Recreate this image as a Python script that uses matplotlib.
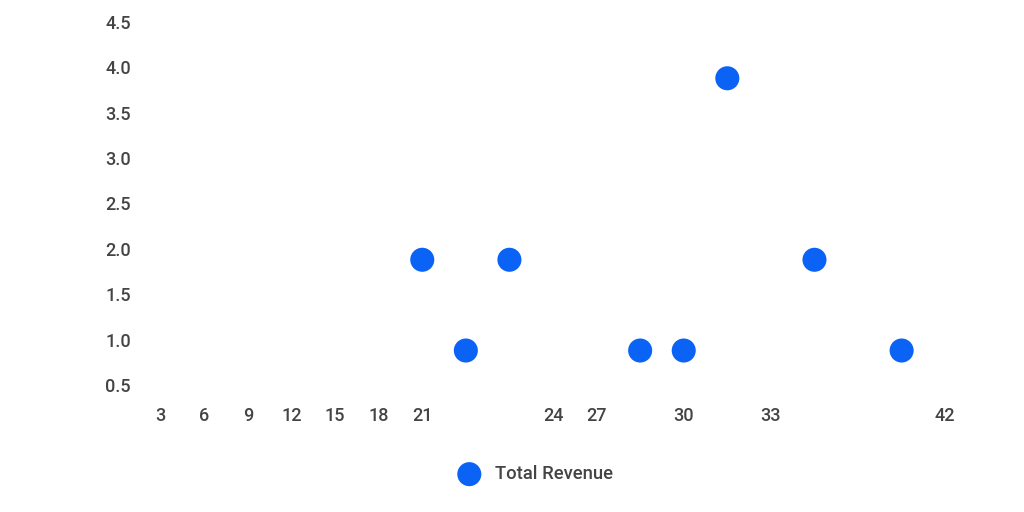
import matplotlib
matplotlib.use("Agg")
import matplotlib.pyplot as plt

plt.rcParams['font.family'] = ['Roboto', 'DejaVu Sans']
plt.rcParams['font.weight'] = 'medium'

# category slots along the x axis and their visible labels
tick_labels = ['3', '6', '9', '12', '15', '18', '21', '', '', '24', '27', '', '30', '', '33', '', '', '', '42']
# data points: slot index and value
point_slots = [6, 7, 8, 11, 12, 13, 15, 17]
revenue = [1.88, 0.88, 1.88, 0.88, 0.88, 3.88, 1.88, 0.88]
y_ticks = [0.5, 1.0, 1.5, 2.0, 2.5, 3.0, 3.5, 4.0, 4.5]
series_name = 'Total Revenue'

color = '#0b63f6'
text_color = '#444444'

fig = plt.figure(figsize=(10.24, 5.12), dpi=100)
ax = fig.add_axes([139/1024, 1 - 385/512, (967-139)/1024, (385-22)/512])

ax.scatter(point_slots, revenue, s=300, color=color, edgecolors='none', label=series_name, zorder=3)

ax.set_xlim(-0.5, len(tick_labels) - 0.5)
ax.set_ylim(0.5, 4.5)
ax.set_xticks(range(len(tick_labels)))
ax.set_xticklabels(tick_labels)
ax.set_yticks(y_ticks)
ax.set_yticklabels([f'{v:.1f}' for v in y_ticks])
for s in ax.spines.values():
    s.set_visible(False)
ax.tick_params(axis='both', length=0, labelsize=13, colors=text_color)
ax.tick_params(axis='x', pad=16)
ax.tick_params(axis='y', pad=6)

leg = fig.legend(loc='center', bbox_to_anchor=(532/1024, 1 - 474/512), frameon=False,
                 fontsize=13.3, markerscale=1.0, handletextpad=0.4, scatterpoints=1)
for t in leg.get_texts():
    t.set_color(text_color)

fig.savefig('out.png', dpi=100)
